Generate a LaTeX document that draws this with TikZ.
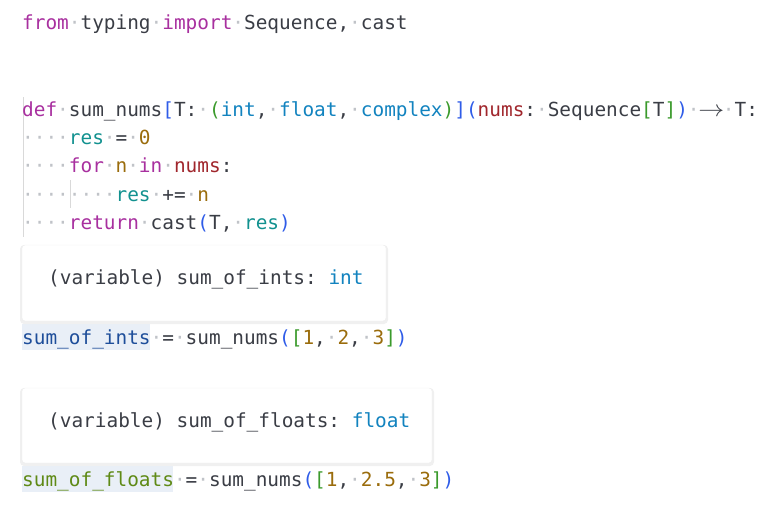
\documentclass[tikz,border=0pt]{standalone}
\usepackage{fontspec}
\setmonofont{DejaVu Sans Mono}
\usepackage{xcolor}
\definecolor{kw}{HTML}{A8309F}
\definecolor{fg}{HTML}{3A3D45}
\definecolor{cl}{HTML}{1283BF}
\definecolor{gr}{HTML}{3B9A2C}
\definecolor{bl}{HTML}{2F5CE8}
\definecolor{rd}{HTML}{A0262C}
\definecolor{tl}{HTML}{12918F}
\definecolor{nm}{HTML}{9A6C0C}
\definecolor{dv}{HTML}{1E4E9A}
\definecolor{ol}{HTML}{5F8A16}
\definecolor{dotc}{HTML}{C0C3C8}
\definecolor{hl}{HTML}{E9EFF7}
\newcommand\K[1]{\textcolor{kw}{#1}}
\newcommand\C[1]{\textcolor{cl}{#1}}
\newcommand\G[1]{\textcolor{gr}{#1}}
\newcommand\B[1]{\textcolor{bl}{#1}}
\newcommand\R[1]{\textcolor{rd}{#1}}
\newcommand\V[1]{\textcolor{tl}{#1}}
\newcommand\N[1]{\textcolor{nm}{#1}}
\newcommand\SP{\textcolor{dotc}{·}}
\newcommand\ARR{\makebox[1.204em]{\scalebox{1.25}[1.1]{$\rightarrow$}}}
\begin{document}
\begin{tikzpicture}[x=1pt,y=-1pt,
  code/.style={anchor=base west,inner sep=0pt,font=\ttfamily\fontsize{19.4}{20}\selectfont,text=fg},
  tip/.style={fill=white,draw=black!7,rounded corners=3pt},
  shad/.style={fill=black!6,rounded corners=4pt},
  guide/.style={draw=black!15,line width=0.8pt}]
\useasboundingbox (0,0) rectangle (778,514);
\fill[hl] (22,324) rectangle (150,350);
\fill[hl] (22,466) rectangle (173,492);
\draw[guide] (23.5,97) -- (23.5,237);
\draw[guide] (70.5,180) -- (70.5,208);
\node[code] (l1) at (22,29) {\K{from}\SP typing\SP\K{import}\SP Sequence,\SP cast};
\node[code] (l4) at (22,116) {\K{def}\SP sum\_nums\B{[}T:\SP\G{(}\C{int},\SP\C{float},\SP\C{complex}\G{)}\B{]}\B{(}\R{nums}:\SP Sequence\G{[}T\G{]}\B{)}\SP\ARR\SP T:};
\node[code] (l5) at (22,144) {\SP\SP\SP\SP\V{res}\SP=\SP\N{0}};
\node[code] (l6) at (22,172) {\SP\SP\SP\SP\K{for}\SP\N{n}\SP\K{in}\SP\R{nums}:};
\node[code] (l7) at (22,201) {\SP\SP\SP\SP\SP\SP\SP\SP\V{res}\SP+=\SP\N{n}};
\node[code] (l8) at (22,229) {\SP\SP\SP\SP\K{return}\SP cast\B{(}T,\SP\V{res}\B{)}};
\node[code] (l10) at (22,344) {\textcolor{dv}{sum\_of\_ints}\SP=\SP sum\_nums\B{(}\G{[}\N{1},\SP\N{2},\SP\N{3}\G{]}\B{)}};
\node[code] (l12) at (22,486) {\textcolor{ol}{sum\_of\_floats}\SP=\SP sum\_nums\B{(}\G{[}\N{1},\SP\N{2.5},\SP\N{3}\G{]}\B{)}};
\path[shad] (20,245) rectangle (388,324);
\path[tip] (22,245) rectangle (386,321);
\node[code] (t1) at (48,284) {(variable) sum\_of\_ints: \C{int}};
\path[shad] (20,388) rectangle (434,466);
\path[tip] (22,388) rectangle (432,463);
\node[code] (t2) at (48,427) {(variable) sum\_of\_floats: \C{float}};
\end{tikzpicture}
\end{document}
